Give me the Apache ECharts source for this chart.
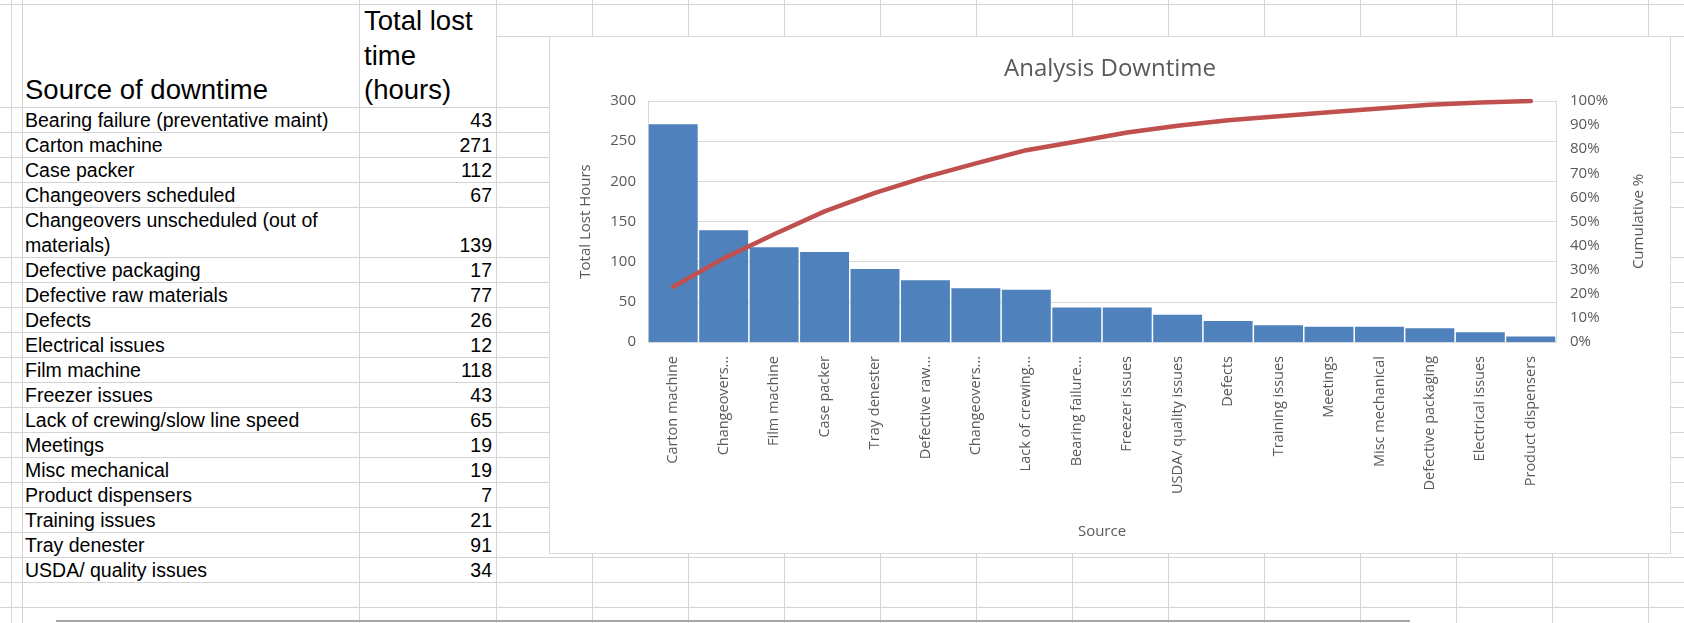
<!DOCTYPE html>
<html>
<head>
<meta charset="utf-8">
<script src="https://cdn.jsdelivr.net/npm/echarts@6/dist/echarts.min.js"></script>
<style>
  html, body { margin: 0; padding: 0; background: #fff; }
  body { width: 1684px; height: 623px; position: relative; overflow: hidden; }
  .hline, .vline { position: absolute; background: #d4d4d4; }
  .hline { height: 1px; }
  .vline { width: 1px; }
  .cell { position: absolute; font-family: "Liberation Sans", Arial, sans-serif; color: #000; white-space: nowrap; }
  .head { font-size: 27.5px; line-height: 34.5px; }
  .row { font-size: 19.5px; line-height: 25px; }
  .num { text-align: right; }
  #chart {
    position: absolute; left: 549px; top: 36px; width: 1120px; height: 516px;
    border: 1px solid #d9d9d9; background: #fff;
  }
  #scroll { position: absolute; left: 56px; top: 620px; width: 1354px; height: 2px; background: #a6a6a6; }
</style>
</head>
<body>
<div id="sheet"></div>
<div id="chart"></div>
<div id="scroll"></div>
<script>
// sheet table, in the order it is listed
const tableSources = [
  "Bearing failure (preventative maint)",
  "Carton machine",
  "Case packer",
  "Changeovers scheduled",
  "Changeovers unscheduled (out of\nmaterials)",
  "Defective packaging",
  "Defective raw materials",
  "Defects",
  "Electrical issues",
  "Film machine",
  "Freezer issues",
  "Lack of crewing/slow line speed",
  "Meetings",
  "Misc mechanical",
  "Product dispensers",
  "Training issues",
  "Tray denester",
  "USDA/ quality issues",
];
const tableHours = [43, 271, 112, 67, 139, 17, 77, 26, 12, 118, 43, 65, 19, 19, 7, 21, 91, 34];

// pareto chart, sorted
const paretoSources = [
  "Carton machine", "Changeovers unscheduled (out of materials)", "Film machine", "Case packer",
  "Tray denester", "Defective raw materials", "Changeovers scheduled", "Lack of crewing/slow line speed",
  "Bearing failure (preventative maint)", "Freezer issues", "USDA/ quality issues", "Defects",
  "Training issues", "Meetings", "Misc mechanical", "Defective packaging", "Electrical issues",
  "Product dispensers",
];
const paretoLabels = [
  "Carton machine", "Changeovers...", "Film machine", "Case packer", "Tray denester",
  "Defective raw...", "Changeovers...", "Lack of crewing...", "Bearing failure...",
  "Freezer issues", "USDA/ quality issues", "Defects", "Training issues", "Meetings",
  "Misc mechanical", "Defective packaging", "Electrical issues", "Product dispensers",
];
const paretoHours = [271, 139, 118, 112, 91, 77, 67, 65, 43, 43, 34, 26, 21, 19, 19, 17, 12, 7];
const cumulativePct = [22.9, 34.7, 44.7, 54.2, 61.9, 68.4, 74.1, 79.6, 83.2, 86.9, 89.7, 92.0, 93.7, 95.3, 96.9, 98.4, 99.4, 100];

// spreadsheet grid
const sheet = document.getElementById("sheet");
const rowLines = [4, 107, 132, 157, 182, 207, 257, 282, 307, 332, 357, 382, 407, 432, 457, 482, 507, 532, 557, 582, 607];
const colLines = [11, 22, 359, 496, 592, 688, 784, 880, 976, 1072, 1168, 1264, 1360, 1456, 1552, 1648];
rowLines.forEach((y) => {
  const d = document.createElement("div");
  d.className = "hline";
  d.style.cssText = `left:0;top:${y}px;width:1684px`;
  sheet.appendChild(d);
});
{
  const d = document.createElement("div");
  d.className = "hline";
  d.style.cssText = "left:496px;top:36px;width:1188px";
  sheet.appendChild(d);
}
colLines.forEach((x) => {
  const d = document.createElement("div");
  d.className = "vline";
  d.style.cssText = `left:${x}px;top:0;height:623px`;
  sheet.appendChild(d);
});

function addCell(html, cls, style) {
  const d = document.createElement("div");
  d.className = "cell " + cls;
  d.style.cssText = style;
  d.innerHTML = html;
  sheet.appendChild(d);
}

// header
addCell("Source of downtime", "head", "left:25px;top:73px;height:34.5px");
addCell("Total lost<br>time<br>(hours)", "head", "left:364px;top:4px;height:103.5px");

// rows
let y = 108;
tableSources.forEach((name, i) => {
  const lines = name.split("\n");
  const h = lines.length * 25;
  addCell(lines.join("<br>"), "row", `left:25px;top:${y}px`);
  addCell(String(tableHours[i]), "row num",
    `left:362px;width:130px;top:${y + h - 25}px`);
  y += h;
});

const chart = echarts.init(document.getElementById("chart"));
const textColor = "#595959";
const font = "'Open Sans', sans-serif";

chart.setOption({
  animation: false,
  title: {
    text: "Analysis Downtime",
    left: "center",
    top: 15,
    textStyle: { fontFamily: font, fontSize: 24, fontWeight: "normal", color: textColor },
  },
  grid: { left: 98, right: 114, top: 64, bottom: 211 },
  xAxis: {
    type: "category",
    data: paretoSources,
    name: "Source",
    nameLocation: "middle",
    nameGap: 182,
    nameTextStyle: { fontFamily: font, fontSize: 15, color: textColor },
    axisLine: { lineStyle: { color: "#d9d9d9" } },
    axisTick: { show: false },
    axisLabel: {
      interval: 0,
      rotate: 90,
      margin: 14,
      fontFamily: font,
      fontSize: 14.5,
      color: textColor,
      formatter: (v, i) => paretoLabels[i],
    },
  },
  yAxis: [
    {
      type: "value",
      min: 0,
      max: 300,
      interval: 50,
      name: "Total Lost Hours",
      nameLocation: "middle",
      nameGap: 55,
      nameTextStyle: { fontFamily: font, fontSize: 15, color: textColor },
      axisLine: { show: true, lineStyle: { color: "#d9d9d9" } },
      axisTick: { show: false },
      axisLabel: { margin: 12, fontFamily: font, fontSize: 15, color: textColor },
      splitLine: { lineStyle: { color: "#d9d9d9" } },
    },
    {
      type: "value",
      min: 0,
      max: 100,
      interval: 10,
      name: "Cumulative %",
      nameLocation: "middle",
      nameGap: 75,
      nameTextStyle: { fontFamily: font, fontSize: 15, color: textColor },
      axisLine: { show: true, lineStyle: { color: "#d9d9d9" } },
      axisTick: { show: false },
      axisLabel: { margin: 14, fontFamily: font, fontSize: 15, color: textColor, formatter: "{value}%" },
      splitLine: { show: false },
    },
  ],
  series: [
    {
      name: "Total Lost Hours",
      type: "bar",
      data: paretoHours,
      barCategoryGap: "3%",
      itemStyle: { color: "#4F81BD" },
    },
    {
      name: "Cumulative %",
      type: "line",
      yAxisIndex: 1,
      data: cumulativePct,
      symbol: "none",
      z: 5,
      lineStyle: { color: "#C0504D", width: 4.5, cap: "round" },
    },
  ],
});
</script>
</body>
</html>
